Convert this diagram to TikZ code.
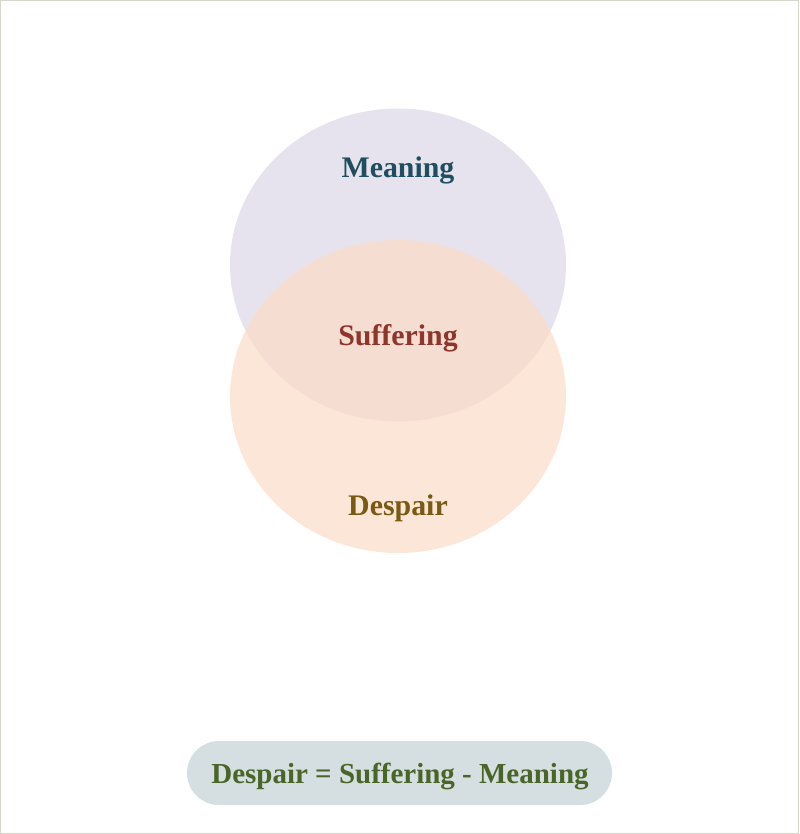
\documentclass[tikz,border=0pt]{standalone}
\usepackage{fontspec}
\setmainfont{Liberation Serif}
\definecolor{lavender}{HTML}{E7E3EE}
\definecolor{peach}{HTML}{FBDCC8}
\definecolor{pillgray}{HTML}{D5DFE1}
\definecolor{edgegray}{HTML}{D6D6CA}
\definecolor{meaningcol}{HTML}{1F4E5F}
\definecolor{sufferingcol}{HTML}{8E352C}
\definecolor{despaircol}{HTML}{7A5A12}
\definecolor{formulacol}{HTML}{4A6528}
\tikzset{
  label/.style={font=\fontsize{17}{20}\selectfont\bfseries, inner sep=0pt},
}
\begin{document}
\begin{tikzpicture}[x=0.02cm,y=-0.02cm]
                \useasboundingbox (0,0) rectangle (800,834);
                \draw[edgegray,line width=0.8pt] (0.5,0.5) rectangle (798.5,833.5);
                % the two circles
                \fill[lavender] (398,265) ellipse (168 and 156.5);
                \fill[peach,fill opacity=0.72] (398,396.5) ellipse (168 and 156.5);
                \node[label,text=meaningcol] (meaning) at (398,170) {Meaning};
                \node[label,text=sufferingcol] (suffering) at (398,338) {Suffering};
                \node[label,text=despaircol] (despair) at (398,508) {Despair};
                % formula
                \fill[pillgray,rounded corners=32*0.02cm] (187,741) rectangle (612,805);
                \node[label,font=\fontsize{16.5}{20}\selectfont\bfseries,text=formulacol] (formula) at (400,776) {Despair = Suffering - Meaning};
            \end{tikzpicture}
\end{document}
